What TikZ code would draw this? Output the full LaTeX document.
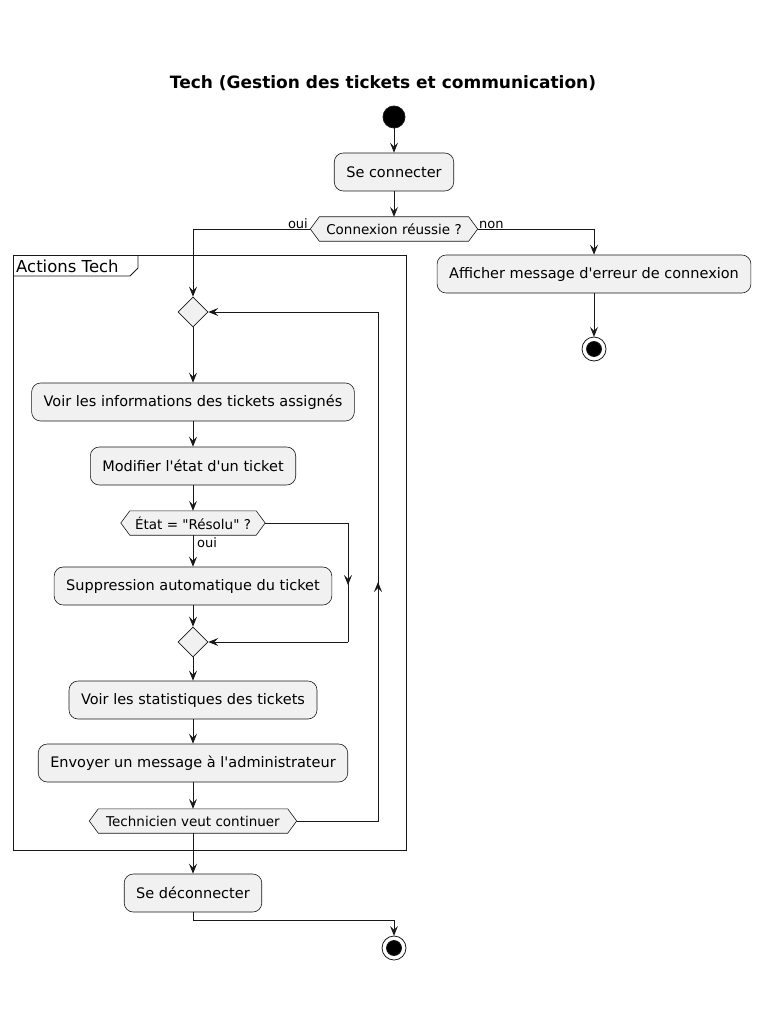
\documentclass[tikz,border=0pt]{standalone}
\usepackage{fontspec}
\setmainfont{DejaVu Sans}[Ligatures=TeXOff]
\usetikzlibrary{arrows.meta,shapes.geometric}
\definecolor{bx}{HTML}{F1F1F1}
\definecolor{ln}{HTML}{181818}
\tikzset{
 act/.style={draw=ln,fill=bx,rounded corners=9pt,minimum height=38pt,inner xsep=12pt,font=\fontsize{14.5}{16}\selectfont,line width=0.6pt},
 hx/.style={inner sep=0pt,minimum height=24pt,font=\fontsize{13.5}{15}\selectfont},
 dm/.style={draw=ln,fill=bx,diamond,minimum width=30pt,minimum height=30pt,inner sep=0pt,line width=0.6pt},
 ar/.style={draw=ln,line width=0.8pt,-{Stealth[length=10pt,width=8pt,inset=4pt]}},
 ln/.style={draw=ln,line width=0.8pt},
 lbl/.style={font=\fontsize{13}{15}\selectfont,inner sep=1pt},
}
\newcommand{\myhex}[5]{% name x y width text
 \node[hx,minimum width=#4pt] (#1) at (#2,#3) {#5};
 \draw[draw=ln,fill=bx,line width=0.6pt] (#1.west) -- ([xshift=9pt]#1.north west) -- ([xshift=-9pt]#1.north east) -- (#1.east) -- ([xshift=-9pt]#1.south east) -- ([xshift=9pt]#1.south west) -- cycle;
 \node[hx,minimum width=#4pt] at (#2,#3) {#5};}
\begin{document}
\begin{tikzpicture}[x=1pt,y=-1pt]
\useasboundingbox (0,0) rectangle (768,1024);
\node[font=\bfseries\fontsize{17}{19}\selectfont] (title) at (383,83) {Tech (Gestion des tickets et communication)};
\fill[ln] (394,117) circle (11);
\node[act] (con) at (394,172) {Se connecter};
\myhex{q1}{394}{229}{167}{Connexion réussie ?}
\node[lbl,anchor=south east] at (309,230) {oui};
\node[lbl,anchor=south west] at (478,230) {non};
\node[act] (err) at (594,274) {Afficher message d'erreur de connexion};
\draw[ln,fill=white] (594,349) circle (12);
\fill[ln] (594,349) circle (7.5);
\node (stopA) at (594,349) [circle,minimum size=24pt,inner sep=0pt] {};
% frame
\draw[ln,line width=1pt] (13,255) rectangle (406,850);
\draw[ln,line width=0.8pt] (13,276) -- (130,276) -- (138,268) -- (138,255);
\node[anchor=west,font=\fontsize{16.5}{18}\selectfont,inner sep=0pt] (frame) at (16,266) {Actions Tech};
\node[dm] (m1) at (193,312) {};
\node[act] (a1) at (193,402) {Voir les informations des tickets assignés};
\node[act] (a2) at (193,466) {Modifier l'état d'un ticket};
\myhex{q2}{193}{523}{144}{État = "Résolu" ?}
\node[lbl,anchor=north west] at (196,536) {oui};
\node[act] (a3) at (193,586) {Suppression automatique du ticket};
\node[dm] (m2) at (193,642) {};
\node[act] (a4) at (193,700) {Voir les statistiques des tickets};
\node[act] (a5) at (193,763) {Envoyer un message à l'administrateur};
\myhex{q3}{193}{821}{207}{Technicien veut continuer}
\node[act] (a6) at (193,893) {Se déconnecter};
\draw[ln,fill=white] (394,948) circle (12);
\fill[ln] (394,948) circle (7.5);
\node (stopB) at (394,948) [circle,minimum size=24pt,inner sep=0pt] {};
\node (startn) at (394,117) [circle,minimum size=22pt,inner sep=0pt] {};
% connectors
\draw[ar] (startn) -- (con);
\draw[ar] (con) -- (q1);
\draw[ar] (q1.west) -- (193,229) -- (m1.north);
\draw[ar] (q1.east) -- (594,229) -- (err.north);
\draw[ar] (err) -- (stopA);
\draw[ar] (m1) -- (a1);
\draw[ar] (a1) -- (a2);
\draw[ar] (a2) -- (q2);
\draw[ar] (q2) -- (a3);
\draw[ar] (a3) -- (m2);
\draw[ln] (q2.east) -- (348,523) -- (348,642);
\draw[ar] (348,523) -- (348,585);
\draw[ar] (348,642) -- (m2.east);
\draw[ar] (m2) -- (a4);
\draw[ar] (a4) -- (a5);
\draw[ar] (a5) -- (q3);
\draw[ln] (q3.east) -- (378,821) -- (378,312);
\draw[ar] (378,821) -- (378,582);
\draw[ar] (378,312) -- (m1.east);
\draw[ar] (q3) -- (a6);
\draw[ar] (a6.south) -- (193,920) -- (394,920) -- (stopB);
\end{tikzpicture}
\end{document}
